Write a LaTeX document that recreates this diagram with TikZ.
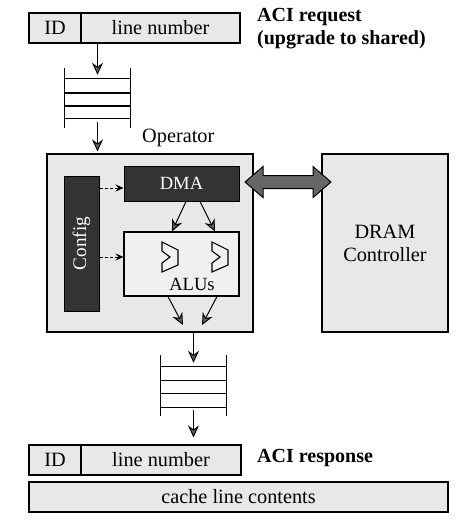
\documentclass[tikz,border=0pt]{standalone}
\usepackage{fontspec}
\setmainfont{Liberation Serif}
\usetikzlibrary{arrows.meta,calc}
\definecolor{boxgray}{HTML}{E8E8E8}
\definecolor{alugray}{HTML}{F0F0F0}
\definecolor{darkbox}{HTML}{333333}
\definecolor{arrgray}{HTML}{666666}
\newcommand\myfs{\fontsize{20.3}{23}\selectfont}
\newcommand\myfsm{\fontsize{18.6}{22}\selectfont}
\newcommand\myfsb{\fontsize{20}{23}\selectfont\bfseries}
\begin{document}
\begin{tikzpicture}[x=1pt,y=-1pt,
  box/.style={draw, line width=1.1pt, fill=boxgray, inner sep=0pt, font=\myfs},
  darkbox/.style={draw, line width=1pt, fill=darkbox, text=white, inner sep=0pt, font=\myfsm},
  qline/.style={line width=1.1pt},
  arr/.style={line width=1pt, -{Stealth[length=12pt,width=11pt,inset=4pt,fill=arrgray]}},
  darr/.style={line width=1pt, dashed, dash pattern=on 3pt off 2pt, -{Stealth[length=8pt,width=7pt,inset=3pt]}},
  alu/.style={line width=1.1pt, fill=alugray, line join=miter}
]
\useasboundingbox (0,0) rectangle (474,524);

% request
\node[box, minimum width=52, minimum height=30] (reqID) at (55,28) {ID};
\node[box, minimum width=159, minimum height=30] (reqLine) at (160.5,28) {line number};
\node[anchor=west, align=left, font=\myfsb, inner sep=0pt] (reqLabel) at (257,28.5) {ACI request\\(upgrade to shared)};

% queue 1
\node[minimum width=65, minimum height=39, inner sep=0pt] (q1) at (97.5,98.5) {};
\draw[qline] ([yshift=11pt]q1.north west) -- ([yshift=-10pt]q1.south west);
\draw[qline] ([yshift=11pt]q1.north east) -- ([yshift=-10pt]q1.south east);
\draw[qline] (q1.north west) -- (q1.north east);
\draw[qline] ($(q1.north west)!0.36!(q1.south west)$) -- ($(q1.north east)!0.36!(q1.south east)$);
\draw[qline] ($(q1.north west)!0.69!(q1.south west)$) -- ($(q1.north east)!0.69!(q1.south east)$);
\draw[qline] (q1.south west) -- (q1.south east);
\draw[arr] (q1.north |- reqLine.south) -- ([yshift=4pt]q1.north);

% operator
\node[box, minimum width=206, minimum height=178] (op) at (150,243) {};
\node[anchor=west, font=\myfs, inner sep=0pt] (opLabel) at (142,138) {Operator};
\draw[arr] ([yshift=-4pt]q1.south) -- ([yshift=2pt]q1.south |- op.north);

% DRAM controller
\node[box, minimum width=126, minimum height=178, align=center] (dram) at (385,243) {DRAM\\Controller};

% inner blocks
\node[darkbox, minimum width=115, minimum height=35] (dma) at (181.5,183.5) {DMA};
\node[darkbox, minimum width=35, minimum height=135] (config) at (81.5,243.5) {\rotatebox{90}{\fontsize{19.2}{22}\selectfont Config}};
\node[box, fill=alugray, minimum width=115, minimum height=64] (alus) at (181.5,264) {};
\node[font=\myfsm, inner sep=0pt] (aluText) at (192,284) {ALUs};

\foreach \xx in {162,212} {
  \draw[alu, shift={(\xx,242)}] (0,0) -- (16,8) -- (16,23) -- (0,30) -- (0,21) -- (8,15) -- (0,9) -- cycle;
}

% dashed config arrows
\draw[darr] ([yshift=-4.5pt]config.east |- dma.west) -- ([yshift=-4.5pt]dma.west);
\draw[darr] ([yshift=7pt]config.east |- alus.west) -- ([yshift=7pt]alus.west);

% DMA -> ALUs
\draw[arr] ([xshift=4.5pt]dma.south) -- ([xshift=-9.5pt]alus.north);
\draw[arr] ([xshift=18.5pt]dma.south) -- ([xshift=33.5pt]alus.north);

% ALUs -> out
\coordinate (o1) at (183,325);
\coordinate (o2) at (202,325);
\draw[arr] ([xshift=-13.5pt]alus.south) -- (o1);
\draw[arr] ([xshift=35.5pt]alus.south) -- (o2);

% double arrow
\draw[line width=1pt, fill=arrgray, line join=miter]
  (245,182) -- (263,166.5) -- (263,175.5) -- (313,175.5) -- (313,166.5) -- (331,182)
  -- (313,197.5) -- (313,188.5) -- (263,188.5) -- (263,197.5) -- cycle;

% queue 2
\node[minimum width=65, minimum height=40, inner sep=0pt] (q2) at (193.5,387) {};
\draw[qline] ([yshift=12pt]q2.north west) -- ([yshift=-9pt]q2.south west);
\draw[qline] ([yshift=12pt]q2.north east) -- ([yshift=-9pt]q2.south east);
\draw[qline] (q2.north west) -- (q2.north east);
\draw[qline] ($(q2.north west)!0.33!(q2.south west)$) -- ($(q2.north east)!0.33!(q2.south east)$);
\draw[qline] ($(q2.north west)!0.67!(q2.south west)$) -- ($(q2.north east)!0.67!(q2.south east)$);
\draw[qline] (q2.south west) -- (q2.south east);
\draw[arr] (q2.north |- op.south) -- ([yshift=4pt]q2.north);

% response
\node[box, minimum width=52, minimum height=30] (respID) at (55,460) {ID};
\node[box, minimum width=160, minimum height=30] (respLine) at (161,460) {line number};
\node[anchor=west, font=\myfsb, inner sep=0pt] (respLabel) at (257,458) {ACI response};
\draw[arr] ([yshift=-3pt]q2.south) -- ([yshift=7pt]q2.south |- respLine.north);

\node[box, minimum width=419, minimum height=30] (cache) at (238.5,497) {cache line contents};
\end{tikzpicture}
\end{document}
